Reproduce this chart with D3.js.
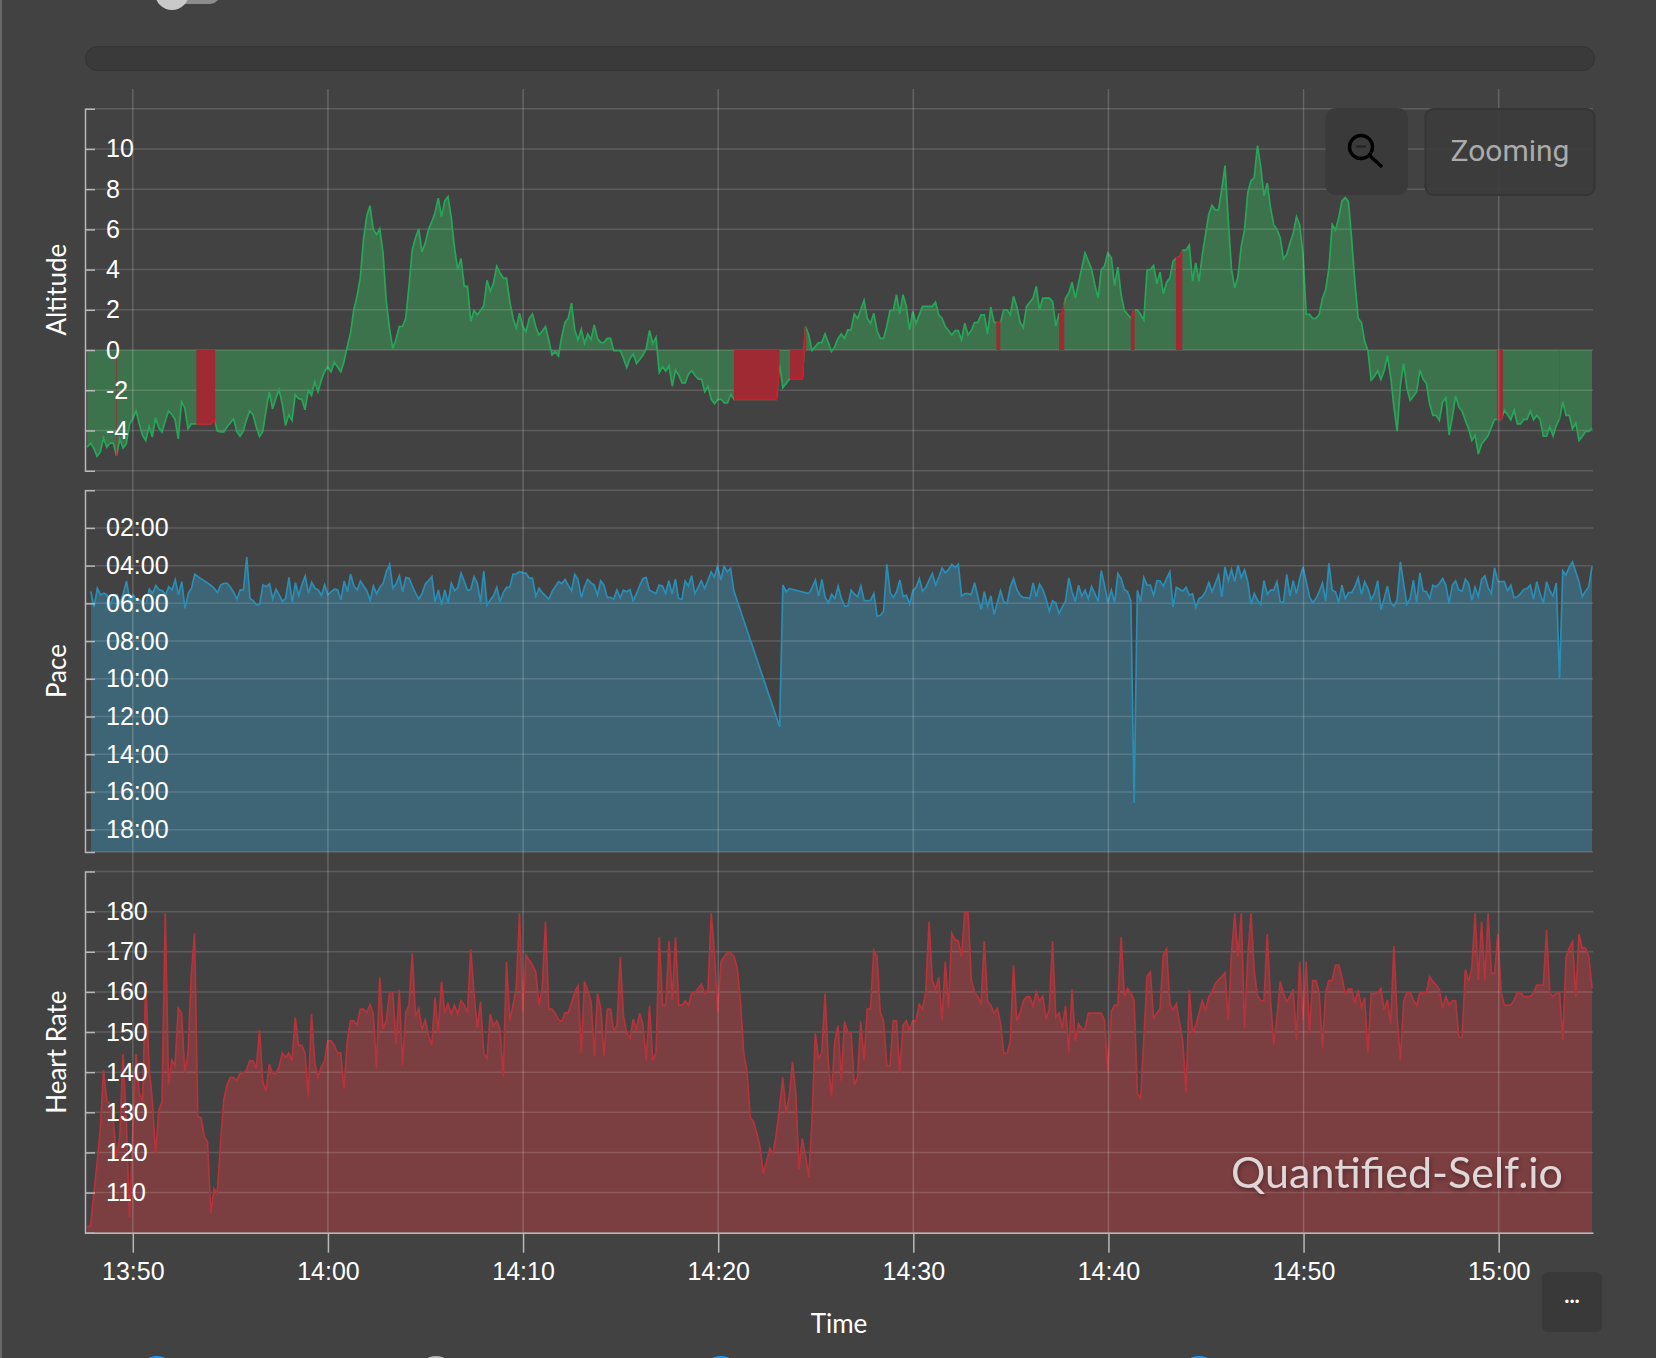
<!DOCTYPE html>
<html>
<head>
<meta charset="utf-8">
<script src="https://cdn.jsdelivr.net/npm/d3@7"></script>
<style>
    html, body { margin: 0; background: #424242; }
    svg { display: block; font-family: Lato, sans-serif; }
    .tick text { fill: #fff; font-size: 25px; }
    .axis path, .axis line { stroke: #b8b8b8; stroke-width: 1.5; }
    .title { fill: #fff; font-size: 26px; text-anchor: middle; }
</style>
</head>
<body>
<svg id="chart" width="1656" height="1358"></svg>
<script>
// samples, roughly one every 10s
var altitudeEarly = [-4.83,-4.63,-4.88,-5.28,-5.08,-4.37,-4.83,-4.63,-4.63,-5.25,-4.42,-4.87,-4.67,-3.7,-3.42,-3.03,-3.67,-4.25,-4.5,-3.8,-4.33,-3.38,-3.87,-4.08,-3.53,-3.03,-3.2,-3.45,-4.42,-2.58,-2.87,-3.92,-3.67,-3.67,-3.67,-3.67,-3.67,-3.67,-3.67,-3.42,-4.03,-4.07,-4.07,-3.83,-3.63,-3.42,-4.05,-4.28,-4.03,-3.47,-3.03,-3.22,-3.83,-4.3,-4.05,-3,-2.08,-2.92,-2.42,-1.97,-2.67,-3.75,-3.22,-3.5,-2.22,-2.42,-2.45,-2.97,-2,-2.25,-1.58,-2.08,-1.5,-1.08,-.83,-1.08,-.62,-.83,-1.08,-.58,.17,.83,2,2.67,3.58,5.5,6.67,7.17,6,5.75,6.03,4.83,2.42,1.08,.08,.53,1.17,1.17,1.58,3.17,5,5.58,6.03,4.88,5.33,6,6.37,6.83,7.55,6.63,7.42,7.63,6.58,5.08,4,4.55,3.17,3.17,1.42,1.97,1.75,1.97,2.2,3.47,2.92,3.33,4.17,3.83,3.58,3.58,2.42,1.58,1.08,1.83,1.17,.92,1.58,1.8,1.17,.75,.95,1.17,.5,-.25,-.08,-.3];
var altitudeMid = [.67,1.37,1.58,2.33,1,.5,1.03,.33,.8,.53,1.25,.58,.37,.37,.58,.58,-.03,-.03,-.03,-.42,-.87,-.42,-.2,-.67,-.47,-.25,.08,.97,.33,.63,-1.12,-.83,-1.05,-.78,-1.8,-1,-1.25,-1.63,-1.63,-1.2,-1.03,-1.25,-1.45,-1.45,-2.08,-1.8,-2.45,-2.67,-2.45,-2.45,-2.63,-2.63,-2.2,-2.45,-2.45,-2.45,-2.45,-2.45,-2.45,-2.45,-2.45,-2.45,-2.45,-2.45,-2.45,-2.45,-2.45,-.67,-1.87,-1.67,-1.45,-1.45,-1.45,-1.45,-1.45,1.17,.75,-.03,.17,.37,.37,.8,.37,-.07,.17,.58,.8,.58,1,1,1.8,1.57,2,2.47,1.57,1.33,1.83,.97,.58,.58,1.17,1.97,1.97,2.75,1.8,2.75,2.17,1,1.92,1.33,1.75,2.17,2.17,2.17,2.17,2.38,1.75,1.58,1.17,.97,.75,.97,.97,.5,1.33,.75,.97,1.37,1.37,1.75,1.75,.8,2.13,1.37,1.37,1.37,2,2,1.75,2.67,2.17,1.38,1.12,2.17,2.37,2.58,3.17,2,2.58,2.58,2.58,2.42,1.2,1.8,1.8,2.58,2.83,3.37,2.58,3.33,4.08,4.83,4.42,4.03,3.25,2.58,4,4.17,4.83];
var altitudeLate = [4.58,3.2,4.13,2.75,1.97,1.78,1.58,2,2,1.78,1.5,3.97,4,4.2,3.3,3.87,2.8,3.37,3.58,4.42,4.58,4.63,4.97,4.97,5.22,3.42,4.33,3.42,4.75,5.75,6.75,7.2,6.97,6.97,8,9.17,6.42,4,3.08,3.67,5.17,5.97,7.83,8.42,8.58,10.17,9.08,7.67,8.3,7.08,6.22,6,5.58,4.53,4.75,5.33,5.8,6.63,6.22,4.75,1.78,1.78,1.57,1.57,1.78,2.58,3,4.08,6.25,5.97,6.58,7.42,7.58,7.38,5.5,3.33,1.58,1.37,.42,-.03,-1.5,-1.3,-1.03,-1.47,-1.03,-.28,-1.33,-2.83,-4.03,-1.75,-.67,-1.92,-2.5,-2.3,-2.08,-1,-1.45,-1.67,-2.67,-3.25,-3.25,-3.5,-2.58,-2.38,-4.22,-3.33,-2.28,-2.83,-3.05,-3.5,-3.92,-4.5,-4.25,-5.17,-4.67,-4.47,-4.25,-3.83,-3.45,-3.45,-3.45,-3,-3.22,-3.47,-3,-3.67,-3.67,-3.45,-3.45,-3.03,-3.47,-3.25,-3.45,-4.28,-4.28,-3.83,-4.28,-3.75,-3.42,-2.58,-3.25,-3.25,-3.92,-3.63,-4.5,-4.3,-4.05,-4.05,-3.88];

// pace in seconds per km
var paceA = [322,372,312,333,328,333,365,338,333,360,328,289,354,333,349,349,360,360,315,328,303,317,319,333,307,317,285,333,291,376,328,312,267,275,282,289,296,303,312,326,301,296,296,309,326,347,317,317,213,344,351,365,362,301,307,298,346,315,333,354,344,277,358,294,336,301,273,328,293,312,317,335,301,333,323,315,317,349,289,323,267,305,317,289,305,320,351,305,330,309,296,259,236,312,298,272,323,278,280,305,328,346,328,298,288,275,356,317,365,317,360,296,320,309,264,291,319,315,275,296,356,257,365,349,335,309,354,326,309,309,267,266,259,262,264,280,280,338,312,326,336,347,323,307,291];
var paceB = [297,284,302,320,268,284,341,307,284,295,302,334,288,302,341,341,347,318,342,318,323,316,352,329,304,281,278,318,323,329,302,305,329,288,331,283,345,347,289,305,272,329,309,288,313,288,260,276,242,286,242,260,249,320];
var paceC = [753,302,323,313];
var paceD = [329,309,286,337,284,341,358,331,345,305,345,369,368,318,331,339,305,350,352,350,329,401,398,384,236,326,341,323,286,339,334,363,320,309,281,321,309,286,265,302,276,247,263,252,236,246,235,337,329,329,331,294,339,380,323,369,336,395,358,320,355,360,307,281,316,334,342,342,345,295,339,299,316,345,385,352,358,392,371,352,279,323,355,302,337,318,345,307,329,355,256,302,358];
var paceE = [318,358,265,281,316,323,352,995,318,355,278,302,302,334,288,288,305,281,260,371,309,315,321,309,334,329,373,345,339,323,294,323,297,270,339,244,288,252,291,238,278,254,291,363,329,350,364,288,331,318,318,291,355,357,268,337,288,329,281,244,291,339,358,345,323,295,352,233,318,323,358,302,345,326,326,307,279,331,291,313,348,329,288,380,345,305,358,369,348,228,297,363,345,286,358,263,320,323,345,302,307,297,281,302,360,302,288,318,321,283,297,350,309,339,284,273,309,329,247,291,291,291,320,302,342,339,329,316,313,302,347,291,329,360,291,320,337,295,599,256,270,244,228,260,291,339,321,307,242];

var heartRateEarly = [101.6,101.6,109.8,117.2,125.6,140.5,132.9,132,128,118.5,123.9,144.5,128,103.8,126.4,144.5,134.7,132.6,162.5,141.3,133,119.7,130.5,132.6,179.6,136.8,143,141.6,155.9,154.8,139.9,144.7,164.2,174.6,128.9,128.7,123.9,122.6,104.8,111,109.8,122.2,133,136.8,138.7,138.7,137.9,139.7,139.7,140.5,142.8,142.8,140.9,150.5,137.6,135.4,142,139.7,139.5,141.3,144.8,143.7,144.8,142.8,153.6,146.7,146.7,144.7,133.9,154.5,142.3,138.7,141.3,142.8,147.8,147.8,146.7,144.8,144.8,135.8,147.6,152.8,152.8,151.7,155.7,155.7,154.8,156.9,154.6,140.9,163.6,150.7,152.8,159.8,159.8,147,160.5,141.8,154.8,156.7,169.6,153.8,155.9,150.5,153,149.2,146.7,158.6,149.8,162.5,154.8,157,154.5,156.7,154.5,157.8,156.7,154.8,170.6,159.6,150.9,157.6,144.7,143.4,154.5,151.5,152.8,150.7,138.9,167.5,152.8,156.7,160.9,179.6,154.8,169.2,167.9,166.7,165,156.7,160.9,177.5,155.7,155.7,154.6,153.1];
var heartRateMid = [152.6,154.8,154.8,157.2,160,161.5,144.8,162.6,160.3,157.6,143.9,159.6,155.9,143.9,155.7,155.7,150.3,151.6,168.6,153.8,149.7,148.4,153.2,150.7,154.7,151.7,142.9,156.6,142.9,144.8,173.6,156.7,156.7,172.7,158,173.6,156.7,156.7,157.8,156.6,159.8,159.8,160.9,161.9,159.6,160.6,179.6,169.2,154.8,167.5,168.8,169.8,169.8,168.8,165.9,157.2,144.7,140.1,128.7,127.6,124.7,121.4,114.8,117.7,121,119.6,124.7,131,138.7,129.9,133.9,142.6,134.7,115.8,123.5,119.1,113.8,128.1,149.7,143.4,144.7,159.6,142.6,133.9,147.6,151.6,137.9,152.6,149.8,149.8,136.8,138.7,152.6,142.9,155.7,155.7,170.3,168.8,154.7,152.8,141.6,141.6,152.8,152.8,139.9,151.7,152.8,150.5,152.8,152.8,156.9,155.7,160,177.5,162.8,160.6,163.6,152.8,167.5,155.9,174.6,173,172.7,168.8,179.8,179.8,163,160,158.8,156.9,172.7,157.6,156.7,154.7,155.9,152.2,144.7,144.7,147.6,166.6,152.8,154.7,157.7,158.8,158.8,156.5,160,157.7,159,153.2,155.7,172.7,153.7,154.8,150.9,156.6,144.8,160.6,147.8,152,150.9,150.7,154.7,154.7,154.7,154.7,154.7,152.8,140.1];
var heartRateLate = [155.1,156.7,156.7,173.6,159,160.9,159.6,158,134.7,133.5,148.4,163.8,164.9,153.4,154.7,155.9,169.2,170.7,157,155.5,157,152.2,147.6,134.9,160.5,149.8,151.7,154.7,157.8,155.5,158.8,160,162,163,163.8,164.8,153,169.6,179.6,168.8,179.6,150.9,168.8,179.6,165,159,157.8,157.8,174.4,158,146.9,153.8,162.6,159.6,157.6,158.8,160.6,148,167.5,153,167.5,149.8,162.8,162.8,159.8,145.9,160,162.8,162.8,166.7,166.7,163.6,159.6,160.7,160.7,157.2,160.5,156.2,158.6,144.8,159.6,159.6,159.8,160.9,155.5,158,152,171.5,153.8,142.9,157.8,159.8,159.8,158,156.6,159.8,159.8,159.8,163.8,162.6,161.7,160.6,155.9,158.8,156.7,157.8,157.8,148.7,148.7,165.6,162.6,165.9,179.6,163,177.5,162.8,179.6,164.6,164.6,174.4,160,156.7,156.7,156.7,158,159.8,159.8,158.8,158.8,158.8,159.8,161.7,161.7,161.7,175.4,159.8,158.8,159.8,159.8,148,168.6,170.9,172.5,158.8,174.4,170.9,170.9,168.8,160.9];

var altitudeSpans = [["13:47:40","14:11:49"],["14:11:59","14:39:58"],["14:40:09","15:04:47"]];
var paceSpans = [["13:47:51","14:11:49"],["14:11:59","14:20:48"],["14:23:09","14:23:39"],["14:24:39","14:39:58"],["14:40:09","15:04:47"]];
var pauses = [["13:49:09","13:49:12"],["13:53:15","13:54:14"],["14:20:48","14:23:09"],["14:23:41","14:24:31"],["14:34:15","14:34:28"],["14:37:28","14:37:45"],["14:41:08","14:41:21"],["14:43:27","14:43:48"],["14:59:54","15:00:13"],["15:03:07","15:03:09"]];

var altitudeTicks = [-4,-2,0,2,4,6,8,10];
var paceTicks = [120,240,360,480,600,720,840,960,1080];
var heartRateTicks = [110,120,130,140,150,160,170,180];
var timeExtent = ["13:47:33","15:04:50"];

var parseTime = d3.timeParse("%H:%M:%S");
var left = 85, right = 1593;

function samples(parts, spans) {
    var out = [];
    parts.forEach(function(part, i) {
        var a = +parseTime(spans[i][0]), b = +parseTime(spans[i][1]);
        part.forEach(function(v, j) {
            out.push({t: new Date(a + j * (b - a) / (part.length - 1)), v: v});
        });
    });
    return out;
}

var x = d3.scaleTime().domain(timeExtent.map(parseTime)).range([left, right]);
var svg = d3.select("#chart");

// page furniture around the chart
svg.append("rect").attr("width", 2).attr("height", 1358).attr("fill", "#686868");
svg.append("rect").attr("x", 165).attr("y", -30).attr("width", 56).attr("height", 34).attr("rx", 12).attr("fill", "#8c8c8c");
svg.append("circle").attr("cx", 172).attr("cy", -7).attr("r", 17).attr("fill", "#c9c9c9");
svg.append("rect").attr("x", 85.5).attr("y", 46.5).attr("width", 1509).attr("height", 24).attr("rx", 12)
    .attr("fill", "#3a3a3a").attr("stroke", "#333");
[[157, "#2196f3"], [436, "#b5b5b5"], [721, "#2196f3"], [1199, "#2196f3"]].forEach(function(c) {
    svg.append("circle").attr("cx", c[0]).attr("cy", 1374).attr("r", 18).attr("fill", c[1]);
});

var panels = [
    {name: "Altitude", data: samples([altitudeEarly, altitudeMid, altitudeLate], altitudeSpans),
     y: d3.scaleLinear().domain([12, -6]).range([108.7, 470.7]), ticks: altitudeTicks, base: 0,
     fill: "#3d734c", line: "#27a659", fmt: String},
    {name: "Pace", data: samples([paceA, paceB, paceC, paceD, paceE], paceSpans),
     y: d3.scaleLinear().domain([0, 1151]).range([490.2, 852]), ticks: paceTicks, base: 1151,
     fill: "#3d6575", line: "#2a8db5", fmt: function(s) { return d3.format("02")(s / 60) + ":00"; }},
    {name: "Heart Rate", data: samples([heartRateEarly, heartRateMid, heartRateLate], altitudeSpans),
     y: d3.scaleLinear().domain([190, 100]).range([871.5, 1232.7]), ticks: heartRateTicks, base: 100,
     fill: "#7b3e41", line: "#b5333b", fmt: String}
];

panels.forEach(function(p, idx) {
    var area = d3.area().x(function(d) { return x(d.t); }).y0(p.y(p.base)).y1(function(d) { return p.y(d.v); });
    var line = d3.line().x(function(d) { return x(d.t); }).y(function(d) { return p.y(d.v); });

    svg.append("path").datum(p.data).attr("d", area).attr("fill", p.fill);

    if (p.name == "Altitude") {
        var clip = svg.append("clipPath").attr("id", "paused");
        pauses.forEach(function(s) {
            var x0 = x(parseTime(s[0])), x1 = x(parseTime(s[1]));
            clip.append("rect").attr("x", x0).attr("y", 100).attr("width", x1 - x0).attr("height", 380);
        });
        var red = svg.append("g").attr("clip-path", "url(#paused)");
        red.append("path").datum(p.data).attr("d", area).attr("fill", "#9f2a33");
    }

    // grid sits over the fill
    svg.append("g").selectAll("line").data(p.y.domain().concat(p.ticks)).join("line")
        .attr("x1", left).attr("x2", right)
        .attr("y1", p.y).attr("y2", p.y)
        .attr("stroke", "#fff").attr("stroke-opacity", 0.14).attr("stroke-width", 1.5);

    svg.append("path").datum(p.data).attr("d", line)
        .attr("fill", "none").attr("stroke", p.line).attr("stroke-width", 1.7);

    if (p.name == "Altitude") {
        red.append("path").datum(p.data).attr("d", line)
            .attr("fill", "none").attr("stroke", "#d3172c").attr("stroke-width", 1.7);
        svg.append("g").attr("clip-path", "url(#paused)").node().appendChild(red.node());
    }

    p.axisGroup = svg.append("g").attr("class", "axis")
        .attr("transform", "translate(" + left + ",0)")
        .call(d3.axisRight(p.y).tickValues(p.ticks).tickFormat(p.fmt).tickSize(10).tickSizeOuter(10).tickPadding(11));

    var mid = (p.y.range()[0] + p.y.range()[1]) / 2;
    svg.append("text").attr("class", "title")
        .attr("transform", "translate(66," + mid + ") rotate(-90)")
        .text(p.name);
});

// vertical grid through all three panels
var timeTicks = x.ticks(d3.timeMinute.every(10));
svg.append("g").selectAll("line").data(timeTicks).join("line")
    .attr("x1", x).attr("x2", x).attr("y1", 89).attr("y2", 1232)
    .attr("stroke", "#fff").attr("stroke-opacity", 0.18).attr("stroke-width", 1.5);

var xAxis = svg.append("g").attr("class", "axis")
    .attr("transform", "translate(0,1232.7)")
    .call(d3.axisBottom(x).tickValues(timeTicks).tickFormat(d3.timeFormat("%H:%M")).tickSize(20).tickSizeOuter(0).tickPadding(10));
xAxis.select(".domain").attr("stroke-width", 2.2).attr("stroke", "#c8c8c8");

svg.append("text").attr("class", "title").attr("x", 839).attr("y", 1333).text("Time");

svg.append("text").attr("x", 1563).attr("y", 1188).attr("text-anchor", "end")
    .attr("fill", "#fff").attr("fill-opacity", 0.8).attr("font-size", 43)
    .style("filter", "drop-shadow(1px 2px 2px rgba(0,0,0,.4))")
    .text("Quantified-Self.io");

// zoom buttons
svg.append("rect").attr("x", 1325.5).attr("y", 108).attr("width", 82.5).attr("height", 87).attr("rx", 10).attr("fill", "#3a3a3a");
svg.append("circle").attr("cx", 1361).attr("cy", 147).attr("r", 11.5).attr("fill", "none").attr("stroke", "#000").attr("stroke-width", 3.5);
svg.append("line").attr("x1", 1356).attr("x2", 1366).attr("y1", 146.5).attr("y2", 146.5).attr("stroke", "#222").attr("stroke-width", 2);
svg.append("line").attr("x1", 1369).attr("x2", 1382).attr("y1", 155).attr("y2", 167).attr("stroke", "#000").attr("stroke-width", 3.5);
svg.append("rect").attr("x", 1425.5).attr("y", 109).attr("width", 169).attr("height", 86).attr("rx", 8)
    .attr("fill", "#3c3c3c").attr("fill-opacity", 0.92).attr("stroke", "#353535").attr("stroke-width", 2);
svg.append("text").attr("x", 1510).attr("y", 161).attr("text-anchor", "middle")
    .attr("fill", "#ababab").style("font-family", "Roboto, sans-serif").attr("font-size", 30).text("Zooming");

svg.append("rect").attr("x", 1542).attr("y", 1272).attr("width", 60).attr("height", 60).attr("rx", 6).attr("fill", "#393939");
svg.append("text").attr("x", 1572).attr("y", 1303).attr("text-anchor", "middle")
    .attr("fill", "#fff").attr("font-size", 22).attr("font-weight", 700).text("...");
</script>
</body>
</html>
